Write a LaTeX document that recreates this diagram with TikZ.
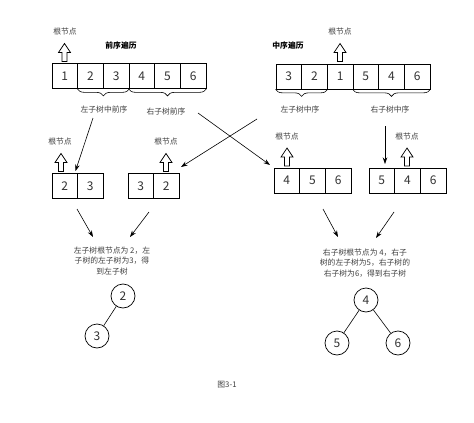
\documentclass[tikz,border=0pt]{standalone}
\usepackage{fontspec}
\setmainfont{Noto Sans CJK SC}
\usetikzlibrary{decorations.pathreplacing,arrows.meta}
\begin{document}
\begin{tikzpicture}[x=1pt,y=-1pt,
  cell/.style={draw, line width=0.7pt, minimum width=25.67pt, minimum height=25pt, inner sep=0pt, font=\fontsize{12}{12}\selectfont, text=black!80},
  cellb/.style={cell, minimum width=25.5pt},
  lbl/.style={font=\fontsize{7.8}{10}\selectfont, text=black!75, inner sep=0pt},
  ttl/.style={font=\fontsize{7.8}{10}\selectfont\bfseries, text=black, inner sep=0pt},
  txt/.style={font=\fontsize{7.8}{10.5}\selectfont, text=black!75, align=center, inner sep=0pt},
  tnode/.style={draw, circle, line width=0.7pt, minimum size=24pt, inner sep=0pt, font=\fontsize{12}{12}\selectfont, text=black!80},
  brc/.style={decorate, decoration={brace, amplitude=7pt, mirror}, line width=0.6pt},
  conn/.style={line width=0.6pt, -{Stealth[length=6.5pt,width=4.5pt]}},
  edge/.style={line width=0.6pt},
  rootarr/.pic={\draw[line width=0.7pt, fill=white] (-2.5,0) -- (-2.5,-9) -- (-6,-9) -- (0,-18) -- (6,-9) -- (2.5,-9) -- (2.5,0) -- cycle;}
]
\useasboundingbox (0,0) rectangle (474,423);
\fill[white] (0,0) rectangle (474,423);

% top-left preorder array
\node[cell] (p1) at (64.8,76) {1};
\node[cell] (p2) at (90.5,76) {2};
\node[cell] (p3) at (116.2,76) {3};
\node[cell] (p4) at (141.8,76) {4};
\node[cell] (p5) at (167.5,76) {5};
\node[cell] (p6) at (193.2,76) {6};
\node[lbl] (r1) at (65,32) {根节点};
\pic at (64.5,61.5) {rootarr};
\node[ttl] (t1) at (121,46) {前序遍历};
\draw[brc] (p2.south west) -- (p3.south east);
\draw[brc] (p4.south west) -- (p6.south east);
\node[lbl] (l1) at (104,110) {左子树中前序};
\node[lbl] (l2) at (166,112) {右子树前序};

% top-right inorder array
\node[cell] (i1) at (288.8,76.5) {3};
\node[cell] (i2) at (314.5,76.5) {2};
\node[cell] (i3) at (340.2,76.5) {1};
\node[cell] (i4) at (365.8,76.5) {5};
\node[cell] (i5) at (391.5,76.5) {4};
\node[cell] (i6) at (417.2,76.5) {6};
\node[lbl] (r2) at (340,32) {根节点};
\pic at (340,61.5) {rootarr};
\node[ttl] (t2) at (288,46) {中序遍历};
\draw[brc] (i1.south west) -- (i2.south east);
\draw[brc] (i4.south west) -- (i6.south east);
\node[lbl] (l3) at (300,110) {左子树中序};
\node[lbl] (l4) at (390,110) {右子树中序};

% second row
\node[cellb] (a1) at (64.75,186) {2};
\node[cellb] (a2) at (90.25,186) {3};
\node[lbl] (r3) at (60,142) {根节点};
\pic at (61,171.5) {rootarr};

\node[cellb] (b1) at (140.75,186) {3};
\node[cellb] (b2) at (166.25,186) {2};
\node[lbl] (r4) at (166,142) {根节点};
\pic at (166,171.5) {rootarr};

\node[cell] (c1) at (286.8,180.5) {4};
\node[cell] (c2) at (312.5,180.5) {5};
\node[cell] (c3) at (338.2,180.5) {6};
\node[lbl] (r5) at (287,137) {根节点};
\pic at (287,166) {rootarr};

\node[cell] (d1) at (381.8,180.5) {5};
\node[cell] (d2) at (407.5,180.5) {4};
\node[cell] (d3) at (433.2,180.5) {6};
\node[lbl] (r6) at (407,137) {根节点};
\pic at (407,166) {rootarr};

% connectors between rows
\coordinate (sA) at (93,118);
\coordinate (eA) at (75.5,171);
\coordinate (sB) at (198,113);
\coordinate (eB) at (270,165);
\coordinate (sC) at (257,119);
\coordinate (eC) at (181,167);
\coordinate (sD) at (385,126);
\coordinate (eD) at (385,164);
\draw[conn] (sA) -- (eA);
\draw[conn] (sB) -- (eB);
\draw[conn] (sC) -- (eC);
\draw[conn] (sD) -- (eD);

% lower arrows
\coordinate (sE) at (77,209);
\coordinate (eE) at (93,237);
\coordinate (sF) at (149,212);
\coordinate (eF) at (130,237);
\coordinate (sG) at (323,209);
\coordinate (eG) at (338,237);
\coordinate (sH) at (394,212);
\coordinate (eH) at (376,238);
\draw[conn] (sE) -- (eE);
\draw[conn] (sF) -- (eF);
\draw[conn] (sG) -- (eG);
\draw[conn] (sH) -- (eH);

\node[txt] (x1) at (112,261) {左子树根节点为 2，左\\子树的左子树为3，得\\到左子树};
\node[txt] (x2) at (365,263) {右子树根节点为 4，右子\\树的左子树为5，右子树的\\右子树为6，得到右子树};

% trees
\node[tnode] (n2) at (123,296) {2};
\node[tnode] (n3) at (97,336) {3};
\draw[edge] (n2) -- (n3);
\node[tnode] (n4) at (366,300) {4};
\node[tnode] (n5) at (337,343) {5};
\node[tnode] (n6) at (398,343) {6};
\draw[edge] (n4) -- (n5);
\draw[edge] (n4) -- (n6);

\node[lbl] (cap) at (227,385) {图3-1};
\end{tikzpicture}
\end{document}
